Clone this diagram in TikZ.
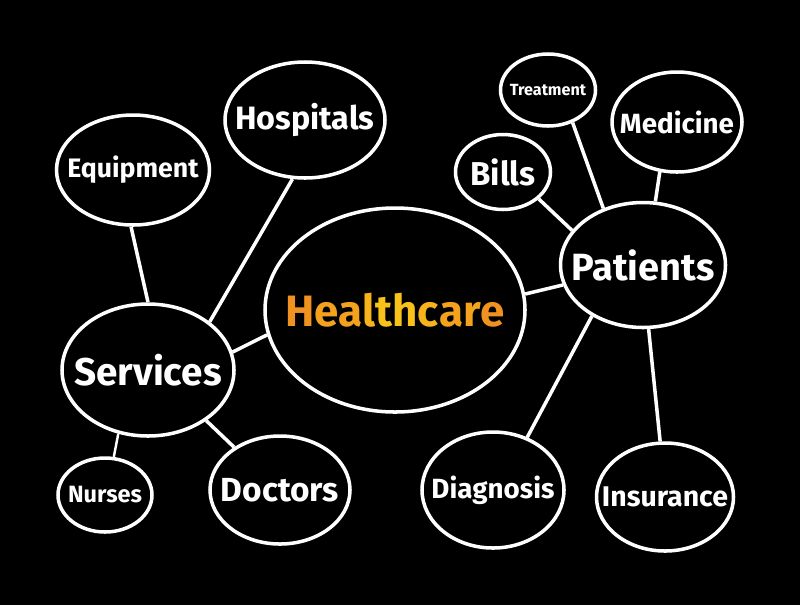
\documentclass[tikz,border=0pt]{standalone}
\usepackage{fontspec}
\setmainfont{Fira Sans}
\usetikzlibrary{shapes.geometric}

\definecolor{hcA}{HTML}{F0921F}
\definecolor{hcB}{HTML}{F4A21E}
\definecolor{hcC}{HTML}{F7B21C}
\definecolor{hcD}{HTML}{F9C21B}

\begin{document}
\begin{tikzpicture}[
    bubble/.style={ellipse,draw=white,line width=1pt,inner sep=0pt,text=white},
    link/.style={draw=white,line width=1pt}
    ]

    % background:
    \fill[black] (0,0) rectangle (8,6.05);

    % centre:
    \node (healthcare) at (3.95, 2.95) [bubble,minimum width=2.6cm,minimum height=2.04cm,
      font=\bfseries\fontsize{12.5}{14}\selectfont] {\makebox[0pt]{%
      \textcolor{hcA}{H}\textcolor{hcB}{e}\textcolor{hcB}{a}\textcolor{hcC}{l}\textcolor{hcD}{t}%
      \textcolor{hcD}{h}\textcolor{hcC}{c}\textcolor{hcB}{a}\textcolor{hcB}{r}\textcolor{hcA}{e}}};

    % left side:
    \node (hospitals) at (3.05, 4.85) [bubble,minimum width=1.6cm,minimum height=1.16cm,
      font=\bfseries\fontsize{9.2}{11}\selectfont] {\makebox[0pt]{Hospitals}};
    \node (equipment) at (1.33, 4.35) [bubble,minimum width=1.53cm,minimum height=1.10cm,
      font=\bfseries\fontsize{7.6}{9}\selectfont] {\makebox[0pt]{Equipment}};
    \node (services) at (1.48, 2.35) [bubble,minimum width=1.72cm,minimum height=1.32cm,
      font=\bfseries\fontsize{11}{13}\selectfont] {\makebox[0pt]{Services}};
    \node (nurses) at (1.05, 1.10) [bubble,minimum width=0.94cm,minimum height=0.74cm,
      font=\bfseries\fontsize{6.7}{8}\selectfont] {\makebox[0pt]{Nurses}};
    \node (doctors) at (2.80, 1.15) [bubble,minimum width=1.40cm,minimum height=1.08cm,
      font=\bfseries\fontsize{9.5}{11}\selectfont] {\makebox[0pt]{Doctors}};

    % right side:
    \node (bills) at (5.03, 4.33) [bubble,minimum width=0.95cm,minimum height=0.75cm,
      font=\bfseries\fontsize{9.4}{11}\selectfont] {\makebox[0pt]{Bills}};
    \node (treatment) at (5.48, 5.15) [bubble,minimum width=0.95cm,minimum height=0.72cm,
      font=\bfseries\fontsize{4.6}{6}\selectfont] {\makebox[0pt]{Treatment}};
    \node (medicine) at (6.77, 4.83) [bubble,minimum width=1.30cm,minimum height=1.00cm,
      font=\bfseries\fontsize{7.9}{9}\selectfont] {\makebox[0pt]{Medicine}};
    \node (patients) at (6.43, 3.40) [bubble,minimum width=1.65cm,minimum height=1.25cm,
      font=\bfseries\fontsize{10.8}{13}\selectfont] {\makebox[0pt]{Patients}};
    \node (diagnosis) at (4.93, 1.15) [bubble,minimum width=1.42cm,minimum height=1.16cm,
      font=\bfseries\fontsize{7.9}{9}\selectfont] {\makebox[0pt]{Diagnosis}};
    \node (insurance) at (6.65, 1.08) [bubble,minimum width=1.37cm,minimum height=1.08cm,
      font=\bfseries\fontsize{8.1}{10}\selectfont] {\makebox[0pt]{Insurance}};

    % connections:
    \draw [link] (healthcare.191) -- (services.12);
    \draw [link] (hospitals.258) -- (services.38);
    \draw [link] (equipment.268) -- (services.90);
    \draw [link,line width=0.7pt] (services.245) -- (nurses.77);
    \draw [link] (services.319) -- (doctors.137);

    \draw [link] (healthcare.7) -- (patients.194);
    \draw [link] (bills.323) -- (patients.154);
    \draw [link] (treatment.307) -- (patients.125);
    \draw [link] (medicine.251) -- (patients.79);
    \draw [link] (patients.225) -- (diagnosis.57);
    \draw [link] (patients.275) -- (insurance.95);

  \end{tikzpicture}
\end{document}
